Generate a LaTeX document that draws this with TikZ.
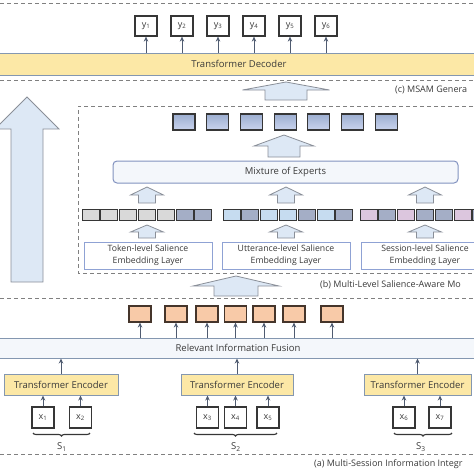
\documentclass[tikz,border=0pt]{standalone}
\usepackage{fontspec}
\setmainfont{Open Sans}
\usetikzlibrary{arrows.meta,decorations.pathreplacing}
\definecolor{txt}{HTML}{3A3A3A}
\definecolor{boxline}{HTML}{363636}
\definecolor{arrowc}{HTML}{4F5B70}
\definecolor{bandline}{HTML}{8497B0}
\definecolor{yellowf}{HTML}{FCE8A6}
\definecolor{fusef}{HTML}{F4F7FB}
\definecolor{barrowf}{HTML}{DDE8F5}
\definecolor{barrowl}{HTML}{8A8F98}
\definecolor{tokgrey}{HTML}{D9D9D9}
\definecolor{tokblue}{HTML}{A4AEC6}
\definecolor{toklight}{HTML}{C6DCF0}
\definecolor{tokpink}{HTML}{DCC6DE}
\definecolor{orangef}{HTML}{F8CAA8}
\definecolor{orangel}{HTML}{45352B}
\definecolor{layerl}{HTML}{8FA2D4}
\definecolor{outtop}{HTML}{9CAED0}
\definecolor{outbot}{HTML}{CAD4EE}

\tikzset{
  sect/.style={draw=gray, line width=0.9pt, dash pattern=on 4pt off 3pt},
  conn/.style={draw=arrowc, line width=1pt, -{Stealth[length=5pt,width=4.5pt]}},
  barrow/.style={fill=barrowf, draw=barrowl, line width=0.8pt},
  smallbox/.style={draw=boxline, line width=1.2pt, fill=white, minimum width=22, minimum height=21,
    inner sep=0pt, text=txt, font=\fontsize{9}{10}\selectfont},
  band/.style={draw=bandline, line width=1pt, minimum width=490, inner sep=0pt, text=txt,
    font=\fontsize{9.5}{11}\selectfont},
  encoder/.style={draw=bandline, line width=1pt, fill=yellowf, minimum height=21, inner sep=0pt,
    text=txt, font=\fontsize{9.5}{11}\selectfont},
  tok/.style={draw=boxline, line width=1pt, minimum width=17, minimum height=11, inner sep=0pt},
  outtok/.style={draw=boxline, line width=1.1pt, minimum width=22, minimum height=16, inner sep=0pt,
    top color=outtop, bottom color=outbot},
  fused/.style={draw=orangel, line width=1.1pt, fill=orangef, minimum width=22, minimum height=16, inner sep=0pt},
  layer/.style={draw=layerl, line width=1pt, fill=white, minimum width=128, minimum height=27, inner sep=0pt,
    align=center, text=txt, font=\fontsize{8.7}{12}\selectfont},
  seclabel/.style={anchor=west, inner sep=0pt, text=txt, font=\fontsize{9}{11}\selectfont}
}
\newcommand{\blockup}[6]{\filldraw[barrow] (#1,#2) -- (#1+#5,#3) -- (#1+#6,#3) -- (#1+#6,#4)
  -- (#1-#6,#4) -- (#1-#6,#3) -- (#1-#5,#3) -- cycle;}

\begin{document}
\begin{tikzpicture}[x=1pt,y=-1pt]
\clip (0,0) rectangle (474,474);

% (c) generation
\draw[sect] (0,3) -- (474,3);
\node[band, fill=yellowf, minimum height=22] (dec) at (239,64) {Transformer Decoder};
\foreach \i in {1,...,6}{
  \node[smallbox, minimum height=20] (y\i) at ({146+(\i-1)*36},26) {y\textsubscript{\i}};
  \draw[conn] (y\i.south |- dec.north) -- (y\i.south);
}
\draw[sect] (0,80) -- (474,80);
\node[seclabel] (lc) at (395,90) {(c) MSAM Genera};
\blockup{286}{82}{90}{100}{43.5}{21}

% (b) salience-aware module
\draw[sect] (480,106) -- (78,106) -- (78,273) -- (480,273);
\blockup{27}{97}{129}{282}{32}{16}
\foreach \i in {1,...,7}
  \node[outtok] (m\i) at ({184+(\i-1)*33.7},122) {};
\blockup{284}{135}{146}{157}{30}{16}
\node[layer, rounded corners=4pt, draw=layerl!90!black, fill=fusef, minimum width=345, minimum height=22,
  font=\fontsize{9.5}{11}\selectfont] (moe) at (285.5,172) {Mixture of Experts};
\foreach \c [count=\i] in {tokgrey,tokgrey,tokgrey,tokgrey,tokgrey,tokblue,tokblue}
  \node[tok, fill=\c] (ta\i) at ({90.5+(\i-1)*18.8},214.5) {};
\foreach \c [count=\i] in {toklight,tokblue,toklight,toklight,tokblue,toklight,tokblue}
  \node[tok, fill=\c] (tb\i) at ({231.5+(\i-1)*18.8},214.5) {};
\foreach \c [count=\i] in {tokpink,tokblue,tokpink,tokblue,tokblue,tokpink,tokblue}
  \node[tok, fill=\c] (tc\i) at ({368.5+(\i-1)*18.8},214.5) {};
\foreach \x in {147,286,425}{
  \blockup{\x}{187}{195}{203}{16.5}{8.5}
  \blockup{\x}{225}{232}{238}{16.5}{8.5}
}
\node[layer] (tokl) at (148,255.5) {Token-level Salience\\Embedding Layer};
\node[layer] (uttl) at (286,255.5) {Utterance-level Salience\\Embedding Layer};
\node[layer] (sesl) at (425,255.5) {Session-level Salience\\Embedding Layer};
\node[seclabel] (lb) at (320,285) {(b) Multi-Level Salience-Aware Mo};
\blockup{236}{276}{286}{296}{43}{22}
\draw[sect] (0,298) -- (474,298);

% (a) multi-session integration
\foreach \x [count=\i] in {140,176,207,235.5,264,294,332}
  \node[fused] (o\i) at (\x,314) {};
\node[band, fill=fusef, minimum height=20] (fuse) at (238,348) {Relevant Information Fusion};
\foreach \i in {1,...,7}
  \draw[conn] (o\i.south |- fuse.north) -- (o\i.south);
\node[encoder, minimum width=114] (enc1) at (61,384.5) {Transformer Encoder};
\node[encoder, minimum width=112] (enc2) at (237,384.5) {Transformer Encoder};
\node[encoder, minimum width=107] (enc3) at (417.5,384.5) {Transformer Encoder};
\foreach \i in {1,2,3}
  \draw[conn] (enc\i.north) -- (enc\i.north |- fuse.south);
\foreach \x [count=\i] in {43,80.5,207.5,235.5,268,404,440}
  \node[smallbox] (x\i) at (\x,417.5) {x\textsubscript{\i}};
\foreach \i/\e in {1/1,2/1,3/2,4/2,5/2,6/3,7/3}
  \draw[conn] (x\i.north) -- (x\i.north |- enc\e.south);
\draw[boxline, line width=1.1pt, decorate, decoration={brace, mirror, amplitude=3pt}] (33,433) -- (90,433);
\draw[boxline, line width=1.1pt, decorate, decoration={brace, mirror, amplitude=3pt}] (194,433) -- (277,433);
\draw[boxline, line width=1.1pt, decorate, decoration={brace, mirror, amplitude=3pt}] (394,433) -- (452,433);
\node[text=txt, font=\fontsize{9.5}{11}\selectfont] (s1) at (62,447) {S\textsubscript{1}};
\node[text=txt, font=\fontsize{9.5}{11}\selectfont] (s2) at (236,447) {S\textsubscript{2}};
\node[text=txt, font=\fontsize{9.5}{11}\selectfont] (s3) at (421,447) {S\textsubscript{3}};
\draw[sect] (0,454) -- (474,454);
\node[seclabel] (la) at (314,464) {(a) Multi-Session Information Integr};
\end{tikzpicture}
\end{document}
